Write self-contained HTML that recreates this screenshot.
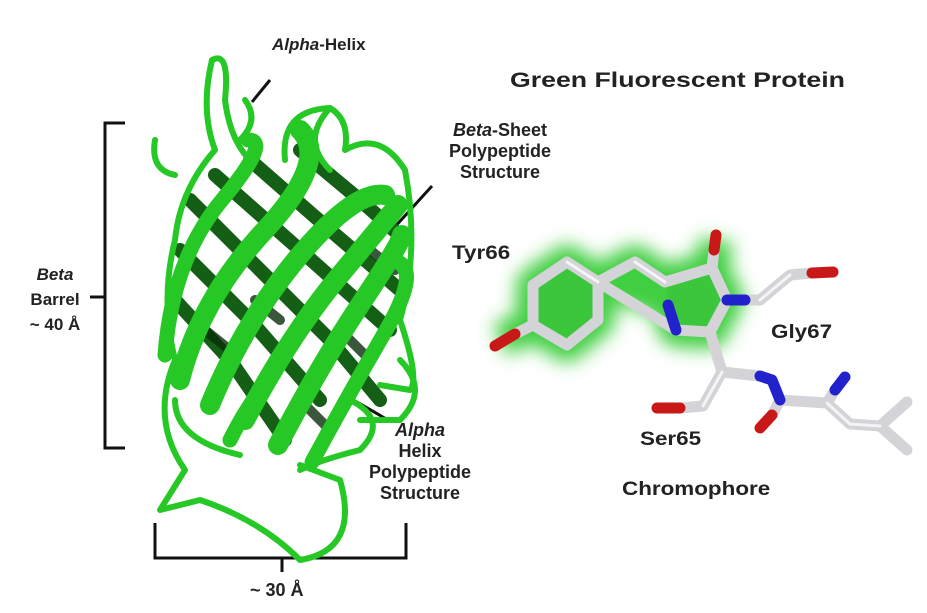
<!DOCTYPE html>
<html><head><meta charset="utf-8"><style>
body{margin:0;background:#fff;width:927px;height:613px;overflow:hidden;font-family:"Liberation Sans",sans-serif}
.t{position:absolute;font-weight:bold;color:#222;font-size:17px;line-height:21px;white-space:nowrap}
.c{text-align:center}
.w{transform:scaleX(1.18);transform-origin:left top;font-size:19px}
</style></head><body>
<svg width="927" height="613" style="position:absolute;left:0;top:0">
<defs><filter id="g" filterUnits="userSpaceOnUse" x="420" y="180" width="400" height="230"><feGaussianBlur stdDeviation="9"/></filter></defs>
<g stroke="#111" stroke-width="3" fill="none">
<path d="M125 123 H105 V448 H125"/><path d="M90 297 H105"/>
<path d="M155 523 V558 H406 V523"/><path d="M282 558 V572"/>
<path d="M252 102 L270 80"/><path d="M392 230 L432 186"/><path d="M350 398 L388 420"/>
</g>
<!-- back strands (down-right, dark) -->
<g stroke="#155e15" stroke-width="14" stroke-linecap="round" fill="none">
<path d="M190 200 L260 270 L330 340 L380 400"/>
<path d="M215 175 L300 250 L390 330"/>
<path d="M250 160 L330 230 L400 290"/>
<path d="M180 250 L250 320 L320 400"/>
<path d="M175 300 L230 360 L285 440"/>
<path d="M300 150 L360 200 L405 240"/>
</g>
<g stroke="#0b2e0b" stroke-width="10" stroke-linecap="round" fill="none" opacity=".8">
<path d="M205 330 L230 350"/><path d="M300 400 L330 430"/><path d="M255 300 L280 320"/><path d="M340 330 L365 355"/><path d="M370 250 L395 270"/>
</g>
<g stroke="#25c825" fill="none" stroke-linecap="round" stroke-linejoin="round">
<g stroke-width="20">
<path d="M180 380 Q200 300 265 230 T300 130"/>
<path d="M210 405 Q245 320 300 255 T385 195"/>
<path d="M245 420 Q290 335 340 275 T398 205"/>
<path d="M278 445 Q320 365 360 305 T402 235"/>
</g>
<g stroke-width="15">
<path d="M165 355 Q172 260 222 200 T248 140"/>
<path d="M312 462 Q350 392 385 332 T398 262"/>
<path d="M230 440 Q250 400 270 380"/>
</g>
<g stroke-width="6">
<path d="M212 60 Q200 110 215 150 Q180 190 175 240 Q160 300 175 360 Q150 420 185 470 L160 510 L200 500 Q260 520 300 560 Q360 550 340 480 L300 465"/>
<path d="M212 60 Q230 50 225 100 Q230 140 250 160"/>
<path d="M245 100 Q260 120 240 140"/>
<path d="M285 160 Q280 110 330 108 Q350 120 345 150 Q380 130 405 170 Q420 250 400 320 Q420 380 410 390 L380 385"/>
<path d="M350 400 Q390 420 360 450 Q320 460 300 470"/>
<path d="M155 140 Q150 170 175 175"/><path d="M175 400 Q175 440 240 455"/>
<path d="M330 108 Q300 140 330 170"/><path d="M400 360 Q430 390 400 420 L360 420"/>
</g>
</g>
<!-- chromophore -->
<g filter="url(#g)" fill="#3fcf3f" stroke="#3fcf3f" stroke-width="34" stroke-linejoin="round">
<path d="M533 285 L567 262 L598 282 L598 320 L567 345 L533 325Z"/>
<path d="M598 282 L635 262 L665 282 L712 268 L727 300 L710 332 L676 330 L665 300Z"/>
<path d="M500 340 L533 325 M712 268 L716 240"/>
</g>
<path d="M533 285 L567 262 L598 282 L598 320 L567 345 L533 325Z" fill="#3cc63c"/>
<path d="M665 282 L712 268 L727 300 L710 332 L676 330Z" fill="#3cc63c"/>
<g stroke-width="11" stroke-linecap="round" stroke-linejoin="round" fill="none">
<g stroke="#d4d4d8">
<path d="M533 285 L567 262 L598 282 L598 320 L567 345 L533 325Z"/>
<path d="M598 282 L635 262 L665 282 L712 268 L727 300 L710 332 L676 330 Z"/>
<path d="M712 268 L714 250 M727 300 L760 300 L790 275 L812 273"/>
<path d="M710 332 L722 372 L703 406 L680 408 M722 372 L760 376 M780 400 L827 403 L835 390 M780 400 L772 415 M827 403 L850 424 L880 426 L907 402 M880 426 L907 450"/>
<path d="M533 325 L515 334"/>
</g>
<g stroke="#f4f4f6" stroke-width="3"><path d="M567 262 L598 282 M635 262 L665 282 M760 300 L790 275 M722 372 L703 406 M827 403 L850 424 L880 426"/></g>
<g stroke="#c81818"><path d="M515 334 L495 346"/><path d="M714 250 L716 235"/><path d="M812 273 L833 272"/><path d="M680 408 L657 408"/><path d="M772 415 L760 428"/></g>
<g stroke="#2222cc"><path d="M727 300 L745 300"/><path d="M676 330 L668 305"/><path d="M760 376 L772 380 L780 400"/><path d="M835 390 L845 377"/></g>
</g>
</svg>
<div class="t" style="left:510px;top:70px;font-size:21px;transform:scaleX(1.27);transform-origin:left top">Green Fluorescent Protein</div>
<div class="t" style="left:272px;top:34px"><i>Alpha</i>-Helix</div>
<div class="t c" style="left:430px;top:120px;width:140px;font-size:18px"><i>Beta</i>-Sheet<br>Polypeptide<br>Structure</div>
<div class="t c" style="left:350px;top:420px;width:140px;font-size:18px"><i>Alpha</i><br>Helix<br>Polypeptide<br>Structure</div>
<div class="t c" style="left:20px;top:262px;width:70px;line-height:25px"><i>Beta</i><br>Barrel<br>~ 40 Å</div>
<div class="t" style="left:250px;top:580px;font-size:18px">~ 30 Å</div>
<div class="t w" style="left:452px;top:243px">Tyr66</div>
<div class="t w" style="left:771px;top:322px">Gly67</div>
<div class="t w" style="left:640px;top:429px">Ser65</div>
<div class="t w" style="left:622px;top:479px">Chromophore</div>
</body></html>
